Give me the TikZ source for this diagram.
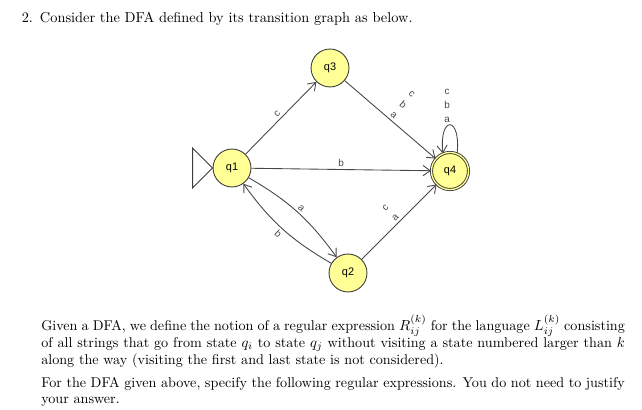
\documentclass[tikz,border=0pt]{standalone}
\usepackage{fontspec}
\newfontfamily\dfafont{Liberation Sans}
\usetikzlibrary{arrows.meta}
\definecolor{stfill}{RGB}{255,255,150}
\definecolor{stdraw}{RGB}{60,60,60}
\definecolor{edgecol}{RGB}{70,70,70}
\begin{document}
\begin{tikzpicture}[x=0.6854pt,y=-0.6854pt,
  state/.style={circle,draw=stdraw,fill=stfill,line width=0.6pt,minimum size=26pt,inner sep=0pt,font=\dfafont\fontsize{7.5}{9}\selectfont},
  accstate/.style={state,double=stfill,double distance=0.9pt,minimum size=25.4pt},
  trans/.style={draw=edgecol,line width=0.6pt,-{Straight Barb[length=5pt,width=7pt]}},
  elabel/.style={font=\dfafont\fontsize{6.8}{9.5}\selectfont,text=edgecol,inner sep=1.5pt,align=center},
  para/.style={anchor=base west,inner sep=0pt,font=\fontsize{9.7}{11.65}\selectfont}
]
\useasboundingbox (0,0) rectangle (642,410);

% text
\node[para,font=\fontsize{9.85}{11.8}\selectfont] (title) at (21.5,22.5) {2.\hspace{4.8pt}Consider the DFA defined by its transition graph as below.};
\node[para] (p1) at (41,330.5) {\parbox[t]{400pt}{Given a DFA, we define the notion of a regular expression $R_{ij}^{(k)}$ for the language $L_{ij}^{(k)}$ consisting\linebreak of all strings that go from state $q_i$ to state $q_j$ without visiting a state numbered larger than $k$\linebreak along the way (visiting the first and last state is not considered).}};
\node[para] (p2) at (41,387) {\parbox[t]{400pt}{For the DFA given above, specify the following regular expressions. You do not need to justify\linebreak your answer.}};

% states
\node[state] (q1) at (232,168) {q1};
\node[state] (q3) at (330,68) {q3};
\node[state] (q2) at (348,273) {q2};
\node[accstate] (q4) at (450,171) {q4};

% start marker
\draw[stdraw,line width=0.6pt] (q1.west) -- ++(-20,-20) -- ++(0,40) -- cycle;

% transitions
\draw[trans] (q1) -- node[elabel,sloped,above] (lc) {c} (q3);
\draw[trans] (q1) -- node[elabel,above] (lb) {b} (q4);
\draw[trans] (q3) -- node[elabel,sloped,above] (labc) {c\\b\\a} (q4);
\draw[trans] (q2) -- node[elabel,sloped,above] (lca) {c\\a} (q4);
\draw[trans] (q1) to[bend left=12] node[elabel,sloped,above] (la) {a} (q2);
\draw[trans] (q2) to[bend left=12] node[elabel,sloped,below] (lbb) {b} (q1);
\draw[trans] (q4.68) .. controls +(4,-38) and +(-4,-38) .. node[elabel,above,xshift=-2pt] (lloop) {c\\b\\a} (q4.112);
\end{tikzpicture}
\end{document}
